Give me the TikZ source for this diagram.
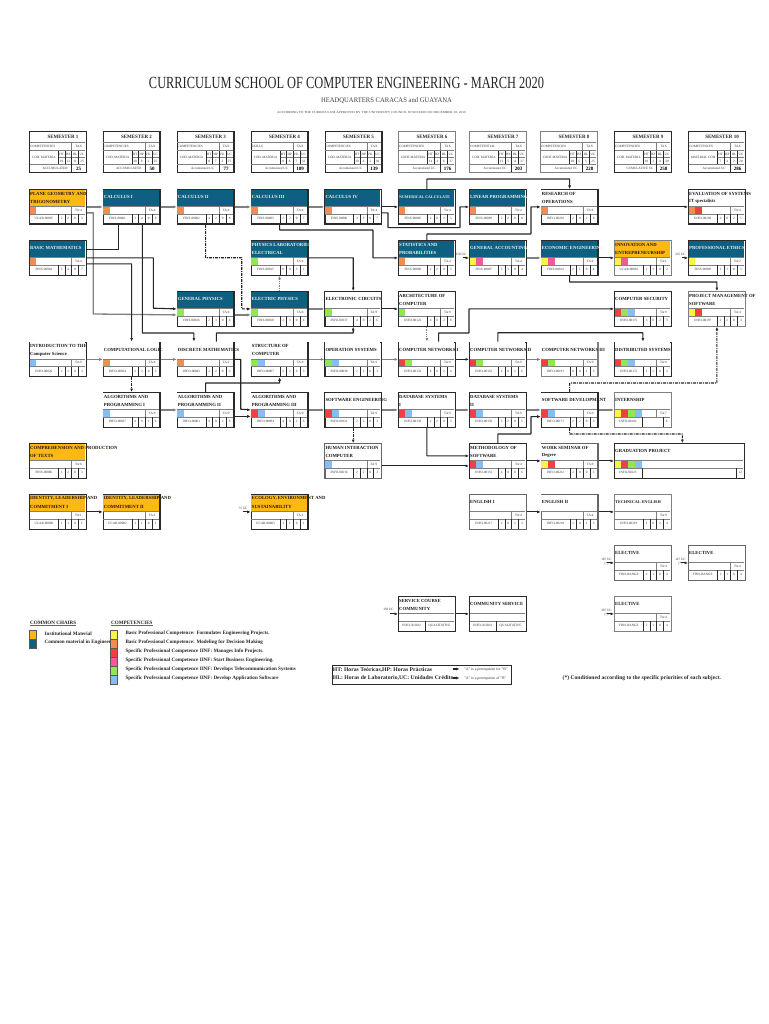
\documentclass[tikz,border=0pt]{standalone}
\usepackage{fontspec}
\usepackage{graphicx}
\setmainfont{Liberation Serif}
\usetikzlibrary{arrows.meta}
\definecolor{cteal}{HTML}{0F5F80}
\definecolor{camber}{HTML}{FDB913}
\definecolor{txtcteal}{HTML}{E8F2F6}
\definecolor{txtcamber}{HTML}{1E1A08}
\definecolor{txtwhite}{HTML}{1A1A1A}
\definecolor{sO}{HTML}{F58B52}
\definecolor{sG}{HTML}{92E64F}
\definecolor{sB}{HTML}{85BDF5}
\definecolor{sR}{HTML}{F24040}
\definecolor{sP}{HTML}{F05A9A}
\definecolor{sY}{HTML}{F8F545}
\definecolor{frame}{HTML}{2A2A2A}
\def\cfc{frame}
\tikzset{
  cframe/.style={draw=\cfc,line width=1.3pt,inner sep=0pt,anchor=north west},
  grid/.style={draw=black!50,line width=.6pt},
  ctitle/.style={font=\fontsize{4.7}{5}\selectfont\bfseries,anchor=west,inner sep=0pt},
  small/.style={font=\fontsize{3.3}{3.6}\selectfont,inner sep=0pt,text=black!80},
  conn/.style={draw=black!85,line width=1.1pt,-{Latex[length=3.5pt,width=3pt]},rounded corners=.3pt},
  conng/.style={conn,draw=black!50,line width=1.3pt},
  plainconn/.style={draw=black!85,line width=1.1pt},
  dashdot/.style={conn,dash pattern=on 3pt off 1pt on 1pt off 1pt},
  dotconn/.style={conn,draw=black!50,dash pattern=on 1pt off .8pt},
  legend/.style={font=\fontsize{5.1}{5.5}\selectfont\bfseries,anchor=west,inner sep=0pt,text=black!85},
  swatchb/.style={draw=black!65,line width=.6pt}
}
\def\cw{56.5}
% body of a course box: id, x, y, fill, swatches, TA, line1, line2
\newcommand\course[8]{%
  \def\cid{#1}\def\cx{#2}\def\cy{#3}\def\cswatch{#5}\def\cta{#6}\def\ctwo{#8}%
  \begin{scope}[shift={(#2,#3)}]
    \node[cframe,fill=white,minimum width=\cw pt,minimum height=34.5pt] (#1) at (0,0) {};
    \fill[#4] (.6,.6) rectangle (\cw-.6,17.7);
    \draw[grid] (0.6,17.7) -- (\cw-.6,17.7) (0.6,25) -- (\cw-.6,25);
    \ifx\cswatch\empty\else
      \foreach \s [count=\i] in \cswatch {\fill[\s] ({(\i-1)*6.8+.6},18) rectangle ({\i*6.8+.6},24.7);}
    \fi
    \ifx\cta\empty\else
      \draw[grid] (\cw-14,17.7) -- (\cw-14,25);
      \node[small] (#1-ta) at (\cw-7,21.4) {#6};
    \fi
    \ifx\ctwo\empty
      \node[ctitle,text=txt#4] (#1-l1) at (1,8.3) {#7};
    \else
      \node[ctitle,text=txt#4] (#1-l1) at (1,4.6) {#7};
      \node[ctitle,text=txt#4] (#1-l2) at (1,12.7) {#8};
    \fi
  \end{scope}}
\newcommand\nums[5]{%
  \begin{scope}[shift={(\cx,\cy)}]
    \draw[frame,line width=.6pt] (29.3,25) -- (29.3,34.5) (36,25) -- (36,34.5) (42.7,25) -- (42.7,34.5) (49.4,25) -- (49.4,34.5);
    \node[small] (\cid-code) at (14.8,29.6) {#1};
    \node[small] (\cid-a) at (32.6,29.8) {#2};
    \node[small] (\cid-b) at (39.3,29.8) {#3};
    \node[small] (\cid-c) at (46,29.8) {#4};
    \node[small] (\cid-d) at (52.9,29.8) {#5};
  \end{scope}}
\newcommand\numswide[2]{%
  \begin{scope}[shift={(\cx,\cy)}]
    \draw[frame,line width=.6pt] (28,25) -- (28,34.5) (\cw-7.5,25) -- (\cw-7.5,34.5);
    \node[small] (\cid-code) at (14,29.6) {#1};
    \node[small] (\cid-v) at (\cw-3.7,29.8) {#2};
  \end{scope}}
\newcommand\numsqual[1]{%
  \begin{scope}[shift={(\cx,\cy)}]
    \draw[frame,line width=.6pt] (27,25) -- (27,34.5);
    \node[small] (\cid-code) at (13.5,29.6) {#1};
    \node[small] (\cid-q) at (41.5,29.6) {QUALITATIVE};
  \end{scope}}
% semester: id, x, n, competence label, code label, 4 values
\newcommand\sem[9]{%
  \def\cid{#1}\def\cx{#2}%
  \begin{scope}[shift={(#2,130.7)}]
    \node[cframe,fill=white,minimum width=56.7pt,minimum height=41.5pt] (#1) at (0,0) {};
    \draw[grid] (0.6,12) -- (56.1,12) (0.6,20) -- (56.1,20) (0.6,33.7) -- (56.1,33.7)
      (29.3,27) -- (56.1,27) (42.7,12) -- (42.7,20);
    \draw[frame,line width=.6pt] (29.3,20) -- (29.3,33.7) (36,20) -- (36,33.7) (42.7,20) -- (42.7,33.7) (49.4,20) -- (49.4,33.7);
    \node[font=\fontsize{5}{5.5}\selectfont\bfseries,inner sep=0pt,text=black!85] (#1-h) at (34,6.2) {SEMESTER #3};
    \node[small,anchor=west] (#1-comp) at (1,16) {#4};
    \node[small] (#1-tax) at (49.7,16) {TAX};
    \node[small] (#1-cod) at (15,27) {#5};
    \node[small] (#1-ht) at (32.6,23.6) {HT};
    \node[small] (#1-hp) at (39.3,23.6) {HP};
    \node[small] (#1-hl) at (46,23.6) {HL};
    \node[small] (#1-uc) at (53,23.6) {UC};
    \node[small] (#1-a) at (32.6,30.4) {#6};
    \node[small] (#1-b) at (39.3,30.4) {#7};
    \node[small] (#1-c) at (46,30.4) {#8};
    \node[small] (#1-d) at (53,30.4) {#9};
  \end{scope}}
\newcommand\semfoot[2]{%
  \begin{scope}[shift={(\cx,130.7)}]
    \draw[frame,line width=.6pt] (42.7,33.7) -- (42.7,41.5);
    \node[small] (\cid-f) at (26,37.7) {#1};
    \node[font=\fontsize{5}{5.5}\selectfont\bfseries,inner sep=0pt] (\cid-v) at (49.7,37.7) {#2};
  \end{scope}}
\begin{document}
\begin{tikzpicture}[x=1pt,y=-1pt]
\useasboundingbox (0,0) rectangle (768,1024);
\fill[white] (0,0) rectangle (768,1024);
\node[inner sep=0pt,text=black!85] (title) at (346.5,83) {\resizebox{395pt}{\height}{\fontsize{17}{18}\selectfont CURRICULUM SCHOOL OF COMPUTER ENGINEERING - MARCH 2020}};
\node[inner sep=0pt,text=black!75] (sub) at (386.5,100.3) {\resizebox{131pt}{\height}{\fontsize{7}{8}\selectfont HEADQUARTERS CARACAS and GUAYANA}};
\node[inner sep=0pt,text=black!75] (sub2) at (371.5,113) {\resizebox{189pt}{\height}{\fontsize{3}{4}\selectfont ACCORDING TO THE CURRICULUM APPROVED BY THE UNIVERSITY COUNCIL IN SESSION ON DECEMBER 18, 2019}};

% semesters
\sem{s1}{29}{1}{COMPETENCIES}{COD. MATERIA}{10}{12}{8}{25}\semfoot{ACCUMULATED}{25}
\sem{s2}{102.5}{2}{COMPETENCIES}{COD. MATERIA}{10}{9}{2}{25}\semfoot{ACCUMULATED}{50}
\sem{s3}{176.5}{3}{COMPETENCIES}{COD. MATERIA}{11}{7}{2}{27}\semfoot{Accumulated UC}{77}
\sem{s4}{250.5}{4}{SKILLS}{COD. MATERIA}{8}{8}{7}{32}\semfoot{Accumulated UC}{109}
\sem{s5}{324.5}{5}{COMPETENCIES}{COD. MATERIA}{10}{4}{2}{30}\semfoot{Accumulated UC}{139}
{\def\cfc{black!50}
\sem{s6}{398}{6}{COMPETENCIES}{CODE MATERIA}{14}{4}{6}{37}\semfoot{Accumulated UC}{176}
\sem{s7}{469}{7}{COMPETENTIAL}{COD. MATERIA}{13}{5}{4}{27}\semfoot{Accumulated UC}{203}
\sem{s8}{540}{8}{COMPETENCIES}{CODE MATERIA}{10}{5}{5}{25}\semfoot{Accumulated UC}{228}
}
\sem{s9}{614}{9}{COMPETENCIES}{COD. MATERIA}{10}{3}{4}{30}\semfoot{CUMULATIVE UC}{258}
\sem{s10}{688}{10}{COMPETENCES}{MATERIAL COD}{7}{4}{2}{28}\semfoot{Accumulated UC}{286}

% row 1
\course{plane}{29}{189}{camber}{sO}{TA:4}{PLANE GEOMETRY AND}{TRIGONOMETRY}\nums{UCAR-00007}{2}{2}{0}{3}
\course{calc1}{102.7}{189}{cteal}{sO}{TA:4}{CALCULUS I}{}\nums{FINS-00001}{3}{4}{0}{9}
\course{calc2}{176.7}{189}{cteal}{sO}{TA:4}{CALCULUS II}{}\nums{FINS-00002}{4}{2}{0}{8}
\course{calc3}{250.7}{189}{cteal}{sO}{TA:4}{CALCULUS III}{}\nums{FINS-00003}{2}{2}{0}{7}
\course{calc4}{324.3}{189}{cteal}{sO}{TA:4}{CALCULUS IV}{}\nums{FINS-00006}{3}{2}{0}{7}
\course{numcalc}{398}{189}{cteal}{sO}{TA:4}{\fontsize{4}{5}\selectfont NUMERICAL CALCULATE}{}\nums{FINS-00005}{2}{0}{2}{5}
\course{linear}{469}{189}{cteal}{sO}{TA:4}{LINEAR PROGRAMMING}{}\nums{FINS-00009}{2}{2}{0}{8}
\course{research}{540.7}{189}{white}{sO}{TA:4}{RESEARCH OF}{OPERATIONS}\nums{INFO-00230}{2}{0}{2}{0}
\course{evalsys}{688}{189}{white}{sO,sR}{TA:4}{EVALUATION OF SYSTEMS}{IT specialists}\nums{INFO-00296}{2}{0}{2}{5}
% row 2
\course{basic}{29}{240}{cteal}{sO}{TA:4}{BASIC MATHEMATICS}{}\nums{FINS-00004}{2}{4}{0}{7}
\course{lab}{250.7}{240}{cteal}{sG}{TA:4}{PHYSICS LABORATORIES}{ELECTRICAL}\nums{FINS-00015}{0}{0}{3}{1}
\course{stats}{398}{240}{cteal}{sO}{TA:4}{STATISTICS AND}{PROBABILITIES}\nums{FINS-00008}{2}{2}{0}{5}
\course{genacct}{469}{240}{cteal}{sY,sP}{TA:4}{GENERAL ACCOUNTING}{}\nums{FINS-00007}{2}{1}{0}{4}
\course{econ}{540.7}{240}{cteal}{sY,sP}{TA:4}{ECONOMIC ENGINEERING}{}\nums{FINS-00014}{2}{1}{0}{4}
{\def\cfc{black!50}\course{innov}{614}{240}{camber}{sY,sP}{TA:1}{INNOVATION AND}{ENTREPRENEURSHIP}\nums{UCAR-00001}{1}{1}{0}{2}}
\course{ethics}{688}{240}{cteal}{sY}{TA:2}{PROFESSIONAL ETHICS}{}\nums{FINS-00009}{1}{1}{0}{3}
% row 3
\course{genphys}{176.7}{291}{cteal}{sG}{TA:4}{GENERAL PHYSICS}{}\nums{FINS-00016}{2}{3}{0}{4}
\course{electric}{250.7}{291}{cteal}{sG}{TA:4}{ELECTRIC PHYSICS}{}\nums{FINS-00018}{2}{3}{0}{4}
\course{electronic}{324.3}{291}{white}{sG}{TA:9}{ELECTRONIC CIRCUITS}{}\nums{INFO-00137}{4}{0}{2}{6}
\course{arch}{398}{291}{white}{sG}{TA:9}{ARCHITECTURE OF}{COMPUTER}\nums{INFO-00122}{4}{0}{2}{6}
\course{security}{614}{291}{white}{sR,sG,sB}{TA:9}{COMPUTER SECURITY}{}\nums{INFO-00175}{3}{0}{2}{3}
{\def\cfc{black!50}\course{project}{688}{291}{white}{sY,sR}{TA:4}{PROJECT MANAGEMENT OF}{SOFTWARE}\nums{INFO-00197}{2}{2}{0}{3}}
% row 4
\course{intro}{29}{341.5}{white}{sB}{TA:9}{INTRODUCTION TO THE}{Computer Science}\nums{INFO-00020}{2}{2}{0}{3}
\course{complogic}{102.7}{341.5}{white}{sO}{TA:4}{COMPUTATIONAL LOGIC}{}\nums{INFO-00034}{2}{2}{0}{3}
\course{discrete}{176.7}{341.5}{white}{sO}{TA:2}{DISCRETE MATHEMATICS}{}\nums{INFO-00043}{2}{2}{0}{3}
\course{structure}{250.7}{341.5}{white}{sG,sB}{TA:9}{STRUCTURE OF}{COMPUTER}\nums{INFO-00007}{2}{2}{0}{3}
\course{opsys}{324.3}{341.5}{white}{sG,sB}{TA:9}{OPERATION SYSTEMS}{}\nums{INFO-00038}{2}{2}{0}{3}
\course{net1}{398}{341.5}{white}{sR,sG}{TA:9}{COMPUTER NETWORKS I}{}\nums{INFO-00133}{4}{0}{2}{6}
\course{net2}{469}{341.5}{white}{sR,sG}{TA:9}{COMPUTER NETWORKS II}{}\nums{INFO-00152}{4}{0}{2}{6}
{\def\cfc{black!50}\course{net3}{540.7}{341.5}{white}{sR,sG}{TA:9}{COMPUTER NETWORKS III}{}\nums{INFO-00191}{0}{0}{2}{3}}
\course{distrib}{614}{341.5}{white}{sR,sG,sB}{TA:9}{DISTRIBUTED SYSTEMS}{}\nums{INFO-00172}{2}{2}{0}{3}
% row 5
\course{algo1}{102.7}{392}{white}{sB}{TA:9}{ALGORITHMS AND}{PROGRAMMING I}\nums{INFO-00037}{4}{0}{2}{6}
\course{algo2}{176.7}{392}{white}{sB}{TA:9}{ALGORITHMS AND}{PROGRAMMING II}\nums{INFO-00061}{4}{0}{2}{6}
\course{algo3}{250.7}{392}{white}{sR,sB}{TA:9}{ALGORITHMS AND}{PROGRAMMING III}\nums{INFO-00094}{4}{0}{2}{6}
\course{softeng}{324.3}{392}{white}{sR,sB}{TA:9}{SOFTWARE ENGINEERING}{}\nums{INFO-00121}{2}{2}{0}{3}
\course{db1}{398}{392}{white}{sR,sB}{TA:9}{DATABASE SYSTEMS}{I}\nums{INFO-00139}{2}{2}{0}{5}
\course{db2}{469}{392}{white}{sR,sB}{TA:9}{DATABASE SYSTEMS}{II}\nums{INFO-00150}{2}{2}{0}{5}
\course{softdev}{540.7}{392}{white}{sR,sB}{TA:9}{SOFTWARE DEVELOPMENT}{}\nums{INFO-00173}{2}{2}{0}{3}
{\def\cfc{black!50}\course{intern}{614}{392}{white}{sY,sR,sG,sB}{TA:7}{INTERNSHIP}{}\numswide{INFO-00192}{6}}
% row 6
\course{comp}{29}{443}{camber}{}{TA:6}{COMPREHENSION AND PRODUCTION}{OF TEXTS}\nums{FINS-00006}{1}{2}{0}{3}
{\def\cfc{black!60}\course{human}{324.3}{443}{white}{sB}{TA:9}{HUMAN INTERACTION}{COMPUTER}\nums{INFO-00216}{2}{2}{0}{3}}
\course{method}{469}{443}{white}{sR,sB}{TA:4}{METHODOLOGY OF}{SOFTWARE}\nums{INFO-00151}{4}{0}{0}{6}
{\def\cfc{black!60}\course{seminar}{540.7}{443}{white}{sY,sR}{TA:9}{WORK SEMINAR OF}{Degree}\nums{INFO-00222}{2}{0}{0}{3}}
\def\cw{130}
\course{grad}{614}{443}{white}{sY,sR,sG,sB}{}{GRADUATION PROJECT}{}\numswide{INFO-00223}{12}
\def\cw{56.5}
% row 7
\course{ident1}{29}{494}{camber}{}{TA:1}{IDENTITY, LEADERSHIP AND}{COMMITMENT I}\nums{UCAR-00000}{1}{1}{0}{1}
\course{ident2}{102.7}{494}{camber}{}{TA:1}{IDENTITY, LEADERSHIP AND}{COMMITMENT II}\nums{UCAR-00002}{1}{1}{0}{1}
\course{ecology}{250.7}{494}{camber}{}{TA:1}{ECOLOGY, ENVIRONMENT AND}{SUSTAINABILITY}\nums{UCAR-00003}{1}{1}{0}{1}
{\def\cfc{black!60}\course{eng1}{469}{494}{white}{}{TA:4}{ENGLISH I}{}\nums{INFO-00217}{2}{0}{2}{3}}
{\def\cfc{black!60}\course{eng2}{540.7}{494}{white}{}{TA:4}{ENGLISH II}{}\nums{INFO-00218}{2}{0}{2}{3}}
{\def\cfc{black!50}\course{engt}{614}{494}{white}{}{TA:9}{\fontsize{4.2}{5}\selectfont TECHNICAL ENGLISH}{}\nums{INFO-00219}{1}{0}{2}{4}}
% rows 8 and 9
{\def\cfc{black!60}\course{el1}{614}{545}{white}{}{TA:4}{ELECTIVE}{}\nums{FINS-RANGE}{2}{1}{0}{4}}
{\def\cfc{black!60}\course{el2}{688}{545}{white}{}{TA:4}{ELECTIVE}{}\nums{FINS-RANGE}{2}{1}{0}{4}}
\course{service}{398}{596}{white}{}{}{SERVICE COURSE}{COMMUNITY}\numsqual{INFO-XC002}
\course{commserv}{469}{596}{white}{}{}{COMMUNITY SERVICE}{}\numsqual{INFO-XC004}
{\def\cfc{black!50}\course{el3}{614}{596}{white}{}{TA:4}{ELECTIVE}{}\nums{FINS-RANGE}{2}{1}{0}{4}}

% named bends
\coordinate (p2) at (388,227.7); \coordinate (p3) at (460,227.7);
\coordinate (r1) at (531,234);
\coordinate (p1) at (373,230);
\coordinate (p4) at (93.3,314);
\coordinate (p5) at (153.3,308.2);
\coordinate (p6) at (150,333);
\coordinate (p7) at (300,333);
\coordinate (p8) at (241.7,257.7);
\coordinate (p9) at (469,333);
\coordinate (p10) at (600,332.7);
\coordinate (p11) at (650,282);
\coordinate (p12) at (650,383);
\coordinate (p13) at (240.7,409.2);
\coordinate (p14) at (250,383);
\coordinate (p15) at (531,434);
\coordinate (p16) at (600,434);

% connectors
\draw[conng] (plane.east) -- (calc1.west);
\draw[conng] (calc1.east) -- (calc2.west);
\draw[conng] (calc2.east) -- (calc3.west);
\draw[conng] (calc3.east) -- (calc4.west);
\draw[conn] (calc4.east) -- (numcalc.west);
\draw[conn] ([yshift=-6pt]calc4.east) -| (p2) -- (p3) |- (linear.west);
\draw[conn] (numcalc.north) -- ++(0,-10) -| (research.north);
\draw[conn] (stats.north) |- (r1) |- (research.west);
\draw[conn] (research.east) -- (evalsys.west);
\draw[conng] ([yshift=-6pt]plane.east) -| (p4) -- ([yshift=-6pt]genphys.west);
\draw[conn] (basic.east) -| (p5) -- (genphys.west);
\draw[conn] ([yshift=-6pt]basic.east) -| (complogic.north);
\draw[plainconn] ([xshift=-13.2pt]calc1.south) |- ([yshift=8pt]basic.east);
\draw[conn] ([xshift=10.7pt]calc1.south) |- (p6) -| ([xshift=-11.7pt]discrete.north);
\draw[conn] ([xshift=10.7pt]discrete.north) |- (p7) -| (electronic.south);
\draw[dashdot] (calc2.south) |- (p8) |- (electric.west);
\draw[conng] ([yshift=-6pt]genphys.east) -- ([yshift=-6pt]electric.west);
\draw[dotconn] (electric.north) -- (lab.south);
\draw[conng] (electric.east) -- (electronic.west);
\draw[conn] (electronic.east) -- (arch.west);
\draw[conn] (lab.east) -| (electronic.north);
\draw[conn] (calc3.south) |- (p1) |- (stats.west);
\draw[dotconn] (arch.south) -- (net1.north);
\draw[conn] ([xshift=11.75pt]net1.north) |- (p9) |- (security.west);
\draw[conn] (net2.north) |- (p10) -| (distrib.north);
\draw[conn] (econ.south) |- (p11) -| (project.north);
\draw[conng] (genacct.east) -- (econ.west);
\draw[conn] (econ.east) -- (innov.west);
\draw[dashdot] (softdev.north) |- (p12) -| (project.south);
\draw[conng] (intro.east) -- (complogic.west);
\draw[conng] (complogic.east) -- (discrete.west);
\draw[conng] (structure.east) -- (opsys.west);
\draw[conng] (opsys.east) -- (net1.west);
\draw[conn] (net1.east) -- (net2.west);
\draw[conng] (net2.east) -- (net3.west);
\draw[conn] (discrete.east) -| (p13) -- (algo3.west);
\draw[dashdot] (complogic.south) -- (algo1.north);
\draw[conng] (algo1.east) -- (algo2.west);
\draw[conn] ([yshift=-6.5pt]algo2.east) -- ([yshift=-6.5pt]algo3.west);
\draw[conn] (algo2.north) |- (p14) -| (structure.south);
\draw[conng] (algo3.east) -- (softeng.west);
\draw[conng] (softeng.east) -- (db1.west);
\draw[conng] (db1.east) -- (db2.west);
\draw[conng] (db2.east) -- (softdev.west);
\draw[conng] (softdev.east) -- (intern.west);
\draw[conn] (method.north) |- (p15) |- ([yshift=-6.7pt]softdev.west);
\draw[conn] (db1.south) |- ([yshift=5pt]method.west);
\draw[dashdot] (softeng.south) -- (human.north);
\draw[conn] ([yshift=-5pt]human.east) -- ([yshift=-5pt]method.west);
\draw[conn] (method.east) -- (seminar.west);
\draw[conn] (seminar.east) -- (grad.west);
\draw[dashdot] (softdev.south) |- (p16) -| ([xshift=2.7pt]grad.north);
\draw[conn] (ident1.east) -- (ident2.west);
\draw[conn] (eng1.east) -- (eng2.west);
\draw[conn] (eng2.east) -- (engt.west);
\draw[conn] (service.east) -- (commserv.west);

% credit-condition arrows
\tikzset{uc/.style={small}}
\node[uc] (u1) at (461,254) {150 UC};
\draw[conn] ([xshift=-6pt]genacct.west) -- (genacct.west);
\node[uc] (u2) at (680.5,254) {235 UC};
\draw[conn] ([xshift=-6pt]ethics.west) -- (ethics.west);
\node[uc] (u3) at (243,508) {75 UC};
\draw[conn] ([xshift=-8pt]ecology.west) -- (ecology.west);
\node[uc] (u4) at (388.5,609.5) {150 UC};
\draw[conn] ([xshift=-8pt]service.west) -- (service.west);
\node[uc,align=center] (u5) at (606.5,561.5) {107 UC\\[.6pt](*)};
\draw[conn] ([xshift=-7pt]el1.west) -- (el1.west);
\node[uc,align=center] (u6) at (680.5,561.5) {147 UC\\[.6pt](*)};
\draw[conn] ([xshift=-7pt]el2.west) -- (el2.west);
\node[uc,align=center] (u7) at (606.5,612.5) {107 UC\\[.6pt](*)};
\draw[conn] ([xshift=-7pt]el3.west) -- (el3.west);

% legends
\node[legend] (lc) at (30,623.3) {COMMON CHAIRS};
\draw[black!60,line width=.5pt] (lc.south west) -- (lc.south east);
\draw[swatchb,fill=camber] (29,630) rectangle (36,639);
\draw[swatchb,fill=cteal] (29,639) rectangle (36,648);
\node[legend] (lc1) at (44.5,633.5) {Institutional Material};
\node[legend] (lc2) at (44.5,642.5) {Common material in Engineering};
\node[legend] (lk) at (111,623.3) {COMPETENCIES};
\draw[black!60,line width=.5pt] (lk.south west) -- (lk.south east);
\draw[swatchb,fill=sY] (110,630) rectangle (117,639);
\draw[swatchb,fill=sO] (110,639) rectangle (117,648);
\draw[swatchb,fill=sR] (110,648) rectangle (117,657);
\draw[swatchb,fill=sP] (110,657) rectangle (117,666);
\draw[swatchb,fill=sG] (110,666) rectangle (117,675);
\draw[swatchb,fill=sB] (110,675) rectangle (117,684);
\node[legend] (k1) at (125.3,633.5) {Basic Professional Competence: Formulates Engineering Projects.};
\node[legend] (k2) at (125.3,642.5) {Basic Professional Competence: Modeling for Decision Making};
\node[legend] (k3) at (125.3,651.3) {Specific Professional Competence IINF: Manages Info Projects.};
\node[legend] (k4) at (125.3,660.2) {Specific Professional Competence IINF: Start Business Engineering.};
\node[legend] (k5) at (125.3,669) {Specific Professional Competence IINF: Develops Telecommunication Systems};
\node[legend] (k6) at (125.3,678) {Specific Professional Competence IINF: Develop Application Software};

\node[cframe,fill=white,minimum width=179pt,minimum height=19pt] (lbox) at (331.7,665) {};
\node[ctitle,font=\fontsize{5.7}{6}\selectfont\bfseries,text=black!85] (lb1) at (332.7,669.5) {HT: Horas Te\'oricas,HP: Horas Pr\'acticas};
\node[ctitle,font=\fontsize{5.7}{6}\selectfont\bfseries,text=black!85] (lb2) at (332.7,677.5) {HL: Horas de Laboratorio,UC: Unidades Cr\'edito};
\coordinate (a1) at (452.5,669); \coordinate (a1e) at (459.5,669);
\coordinate (a2) at (452.5,678); \coordinate (a2e) at (459.5,678);
\draw[conn] (a1) -- (a1e);
\draw[conn] (a2) -- (a2e);
\node[small,anchor=west,font=\fontsize{3.8}{4}\selectfont] (lb3) at (464,669.5) {"A" is a prerequisite for "B"};
\node[small,anchor=west,font=\fontsize{3.8}{4}\selectfont] (lb4) at (464,678.5) {"A" is a prerequisite of "B"};
\node[legend,font=\fontsize{5.6}{6}\selectfont\bfseries] (foot) at (562.5,678) {(*) Conditioned according to the specific priorities of each subject.};
\end{tikzpicture}
\end{document}
